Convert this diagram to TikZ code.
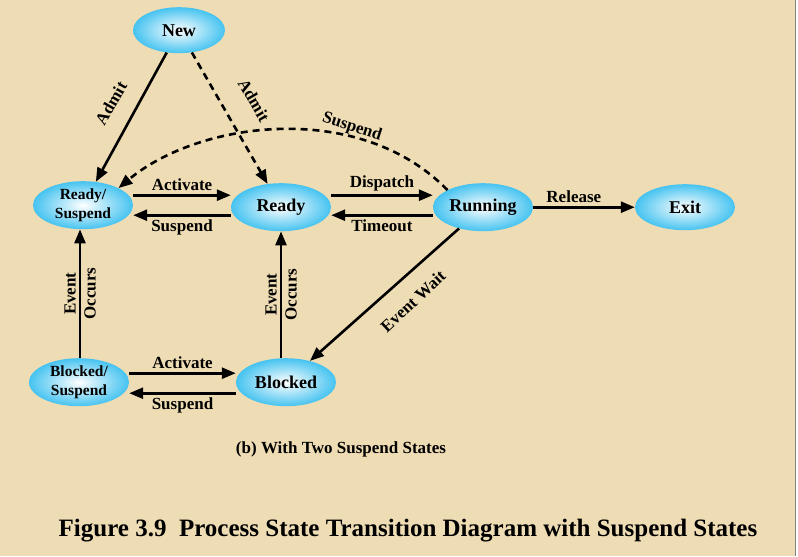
\documentclass[tikz,border=0pt]{standalone}
\usepackage{fontspec}
\setmainfont{Liberation Serif}
\usetikzlibrary{arrows.meta,shapes.geometric}
\begin{document}
\begin{tikzpicture}[x=1pt,y=-1pt,
  st/.style={ellipse,inner sep=0pt,minimum width=100pt,minimum height=48pt,shading=radial,inner color=white,outer color={rgb,255:red,70;green,195;blue,240},font=\bfseries\fontsize{18}{19}\selectfont,align=center},
  stsm/.style={st,font=\bfseries\fontsize{15.5}{19}\selectfont},
  ar/.style={line width=2.6pt,-{Triangle[length=14pt,width=11pt]}},
  dsh/.style={dash pattern=on 7pt off 5pt},
  lb/.style={font=\bfseries\fontsize{17}{18}\selectfont,inner sep=3pt}]
\fill[color={rgb,255:red,238;green,220;blue,180}] (0,0) rectangle (798,556);
\fill[white] (795,0) rectangle (798,556);
\draw[gray] (795,0) -- (795,556);
\node[st,minimum width=92pt,minimum height=46pt] (new) at (179,30) {New};
\node[stsm] (rs) at (83,205) {Ready/\\Suspend};
\node[st] (rd) at (281,207) {Ready};
\node[st] (run) at (483,207) {Running};
\node[st,minimum height=46pt] (ex) at (685,207) {Exit};
\node[stsm] (bs) at (79,382) {Blocked/\\Suspend};
\node[st] (bl) at (286,382) {Blocked};
\draw[ar] (new) -- (rs);
\node[lb,rotate=60] (l1) at (111,103) {Admit};
\draw[ar,dsh] (new) -- (rd);
\node[lb,rotate=-60] (l2) at (254,100) {Admit};
\draw[ar,dsh] (run.north west) .. controls (360,100) and (200,120) .. (rs.north east);
\node[lb,rotate=-18] (l3) at (352,127) {Suspend};
\draw[ar] (rs.east|-0,195) -- node[lb,above] {Activate} (rd.west|-0,195);
\draw[ar] (rd.west|-0,215) -- node[lb,below] {Suspend} (rs.east|-0,215);
\draw[ar] (rd.east|-0,195) -- node[lb,above] {Dispatch} (run.west|-0,195);
\draw[ar] (run.west|-0,215) -- node[lb,below] {Timeout} (rd.east|-0,215);
\draw[ar] (run) -- node[lb,above,pos=0.4] {Release} (ex);
\draw[ar] (run) -- (bl);
\node[lb,rotate=43] (l4) at (413,301) {Event Wait};
\draw[ar] (bl.north-|281,0) -- node[lb,rotate=90,anchor=south] {Event} node[lb,rotate=90,anchor=north] {Occurs} (rd.south);
\draw[ar] (bs.north-|80,0) -- node[lb,rotate=90,anchor=south] {Event} node[lb,rotate=90,anchor=north] {Occurs} (rs.south-|80,0);
\draw[ar] (bs.east|-0,373) -- node[lb,above] {Activate} (bl.west|-0,373);
\draw[ar] (bl.west|-0,393) -- node[lb,below] {Suspend} (bs.east|-0,393);
\node[font=\bfseries\fontsize{17}{18}\selectfont] (cap) at (341,449) {(b) With Two Suspend States};
\node[font=\bfseries\fontsize{25}{26}\selectfont] (title) at (408,530) {Figure 3.9\ \ Process State Transition Diagram with Suspend States};
\end{tikzpicture}
\end{document}
